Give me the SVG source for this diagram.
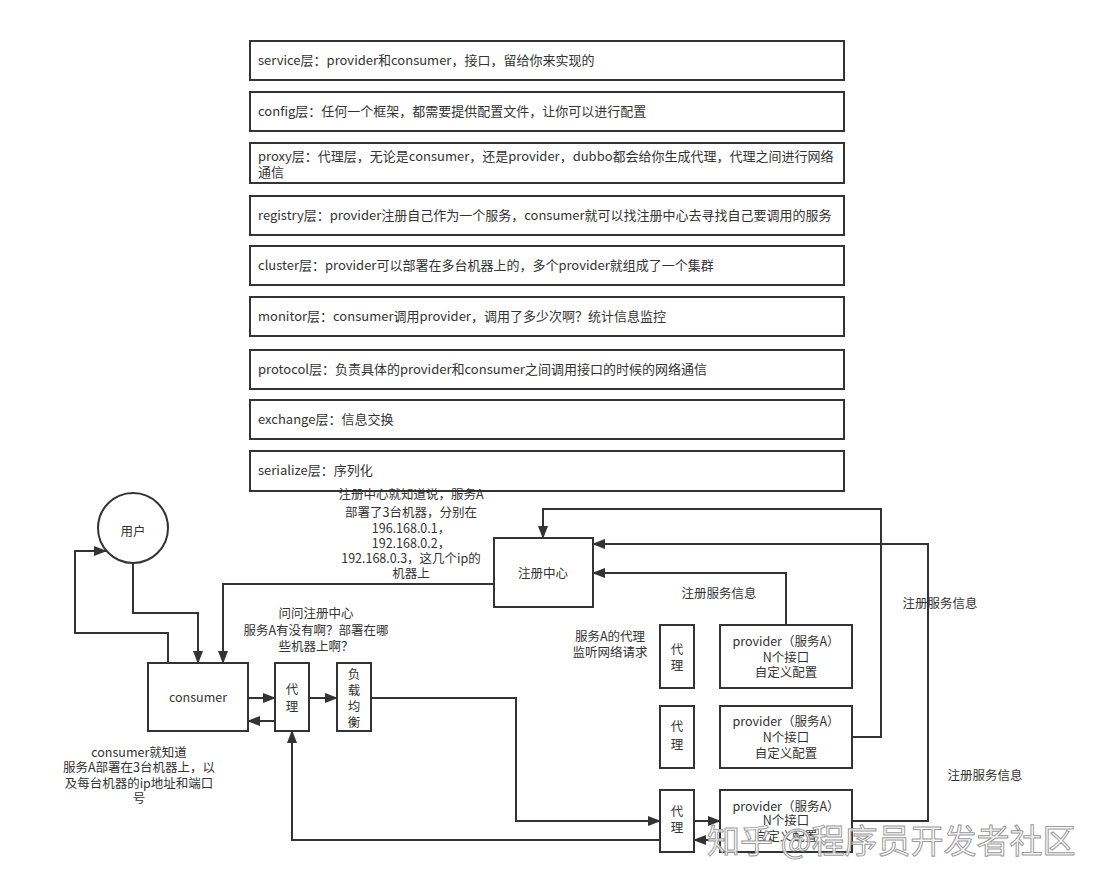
<svg xmlns="http://www.w3.org/2000/svg" width="1100" height="887" viewBox="0 0 1100 887">
<style>
.bx{fill:#fff;stroke:#333;stroke-width:2}
.t{font-family:"Noto Sans CJK SC","Noto Sans",sans-serif;font-size:12.5px;fill:#333}
.lt{font-family:"Noto Sans CJK SC","Noto Sans",sans-serif;font-size:13px;fill:#333}
.c{text-anchor:middle}
.ln{fill:none;stroke:#333;stroke-width:2;marker-end:url(#ah)}
.wm{font-family:"Noto Sans CJK SC",sans-serif;font-size:33px;fill:#fff;fill-opacity:0.85;stroke:#9a9a9a;stroke-width:1}
</style>
<defs>
<marker id="ah" markerUnits="userSpaceOnUse" markerWidth="13" markerHeight="10" refX="12" refY="5" orient="auto">
<path d="M0,0 L13,5 L0,10 z" fill="#333"/>
</marker>
</defs>
<rect width="1100" height="887" fill="#fff"/>

<g id="layers">
<g id="layer-service"><rect class="bx" x="250" y="41" width="594" height="39"/><text class="lt" x="258" y="65">service层：provider和consumer，接口，留给你来实现的</text></g>
<g id="layer-config"><rect class="bx" x="250" y="92" width="594" height="39"/><text class="lt" x="258" y="116">config层：任何一个框架，都需要提供配置文件，让你可以进行配置</text></g>
<g id="layer-proxy"><rect class="bx" x="250" y="143" width="594" height="40"/><text class="lt" x="258" y="161">proxy层：代理层，无论是consumer，还是provider，dubbo都会给你生成代理，代理之间进行网络</text><text class="lt" x="258" y="177">通信</text></g>
<g id="layer-registry"><rect class="bx" x="250" y="196" width="594" height="39"/><text class="lt" x="258" y="220">registry层：provider注册自己作为一个服务，consumer就可以找注册中心去寻找自己要调用的服务</text></g>
<g id="layer-cluster"><rect class="bx" x="250" y="246" width="594" height="39"/><text class="lt" x="258" y="270">cluster层：provider可以部署在多台机器上的，多个provider就组成了一个集群</text></g>
<g id="layer-monitor"><rect class="bx" x="250" y="297" width="594" height="39"/><text class="lt" x="258" y="321">monitor层：consumer调用provider，调用了多少次啊？统计信息监控</text></g>
<g id="layer-protocol"><rect class="bx" x="250" y="350" width="594" height="39"/><text class="lt" x="258" y="374">protocol层：负责具体的provider和consumer之间调用接口的时候的网络通信</text></g>
<g id="layer-exchange"><rect class="bx" x="250" y="400" width="594" height="39"/><text class="lt" x="258" y="424">exchange层：信息交换</text></g>
<g id="layer-serialize"><rect class="bx" x="250" y="451" width="594" height="40"/><text class="lt" x="258" y="475">serialize层：序列化</text></g>
</g>

<g id="connectors">
<path class="ln" d="M133,562 V613 H198 V663"/>
<path class="ln" d="M168,663 V633 H75 V551 H106"/>
<path class="ln" d="M494,584 H223 V663"/>
<path class="ln" d="M248,698 H275"/>
<path class="ln" d="M275,721 H248"/>
<path class="ln" d="M309,698 H337"/>
<path class="ln" d="M371,698 H516 V821 H660"/>
<path class="ln" d="M660,840 H292 V731"/>
<path class="ln" d="M694,821 H720"/>
<path class="ln" d="M720,840 H694"/>
<path class="ln" d="M786,625 V573 H593"/>
<path class="ln" d="M852,737 H881 V509 H543 V538"/>
<path class="ln" d="M852,821 H928 V544 H593"/>
</g>

<g id="user"><circle cx="133" cy="528" r="35" class="bx"/><text class="t c" x="133" y="536">用户</text></g>

<g id="registry"><rect class="bx" x="494" y="538" width="99" height="69"/><text class="t c" x="543" y="578">注册中心</text></g>

<g id="consumer"><rect class="bx" x="148" y="663" width="100" height="68"/><text class="t c" x="198" y="702">consumer</text></g>

<g id="consumer-proxy"><rect class="bx" x="275" y="663" width="34" height="68"/><text class="t c" x="292" y="694">代</text><text class="t c" x="292" y="711">理</text></g>

<g id="load-balance"><rect class="bx" x="337" y="663" width="34" height="68"/><text class="t c" x="354" y="679">负</text><text class="t c" x="354" y="695">载</text><text class="t c" x="354" y="711">均</text><text class="t c" x="354" y="727">衡</text></g>

<g id="proxy1"><rect class="bx" x="660" y="625" width="34" height="63"/><text class="t c" x="677" y="654">代</text><text class="t c" x="677" y="670">理</text></g>
<g id="proxy2"><rect class="bx" x="660" y="706" width="34" height="62"/><text class="t c" x="677" y="731">代</text><text class="t c" x="677" y="749">理</text></g>
<g id="proxy3"><rect class="bx" x="660" y="790" width="34" height="62"/><text class="t c" x="677" y="816">代</text><text class="t c" x="677" y="832">理</text></g>

<g id="provider1"><rect class="bx" x="720" y="625" width="132" height="63"/><text class="t c" x="786" y="646">provider（服务A）</text><text class="t c" x="786" y="662">N个接口</text><text class="t c" x="786" y="677">自定义配置</text></g>
<g id="provider2"><rect class="bx" x="720" y="706" width="132" height="62"/><text class="t c" x="786" y="726">provider（服务A）</text><text class="t c" x="786" y="742">N个接口</text><text class="t c" x="786" y="758">自定义配置</text></g>
<g id="provider3"><rect class="bx" x="720" y="790" width="132" height="62"/><text class="t c" x="786" y="811">provider（服务A）</text><text class="t c" x="786" y="825">N个接口</text><text class="t c" x="786" y="841">自定义配置</text></g>

<g id="labels">
<text class="t c" x="411"><tspan x="411" y="499">注册中心就知道说，服务A</tspan><tspan x="411" y="517">部署了3台机器，分别在</tspan><tspan x="411" y="533">196.168.0.1，</tspan><tspan x="411" y="548">192.168.0.2，</tspan><tspan x="411" y="563">192.168.0.3，这几个ip的</tspan><tspan x="411" y="578">机器上</tspan></text>
<text class="t c" x="316"><tspan x="316" y="618">问问注册中心</tspan><tspan x="316" y="635">服务A有没有啊？部署在哪</tspan><tspan x="316" y="651">些机器上啊？</tspan></text>
<text class="t c" x="139"><tspan x="139" y="757">consumer就知道</tspan><tspan x="139" y="772">服务A部署在3台机器上，以</tspan><tspan x="139" y="788">及每台机器的ip地址和端口</tspan><tspan x="139" y="803">号</tspan></text>
<text class="t c" x="610"><tspan x="610" y="641">服务A的代理</tspan><tspan x="610" y="657">监听网络请求</tspan></text>
<text class="t c" x="719" y="598">注册服务信息</text>
<text class="t c" x="940" y="608">注册服务信息</text>
<text class="t c" x="985" y="780">注册服务信息</text>
</g>

<text class="wm" x="707" y="853">知乎 @程序员开发者社区</text>
</svg>
